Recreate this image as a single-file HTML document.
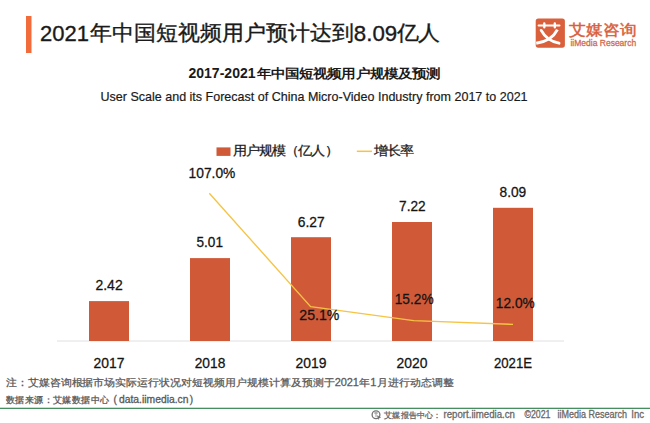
<!DOCTYPE html>
<html><head><meta charset="utf-8">
<style>
html,body{margin:0;padding:0;background:#fff;width:650px;height:423px;overflow:hidden}
svg{display:block;font-family:"Liberation Sans",sans-serif}
</style></head><body>
<svg width="650" height="423" viewBox="0 0 650 423">
<rect x="0" y="0" width="650" height="423" fill="#fff"/>
<!-- title -->
<rect x="26" y="16" width="5.5" height="37" fill="#f26b3a"/>
<g font-size="22" fill="#1a1a1a" stroke="#1a1a1a" stroke-width="0.35">
<text x="40" y="40.5">2021</text>
<text transform="translate(90.4 40.0) scale(1.045 1)" x="0.00 21.03 42.07 63.10 84.13 105.17 126.20 147.23 168.27 189.30 210.33 231.37" y="0" font-size="21" font-weight="500">年中国短视频用户预计达到</text>
<text x="353.8" y="40.5" textLength="43.4" lengthAdjust="spacingAndGlyphs">8.09</text>
<text transform="translate(397.2 40.0) scale(1.045 1)" x="0.00 20.38" y="0" font-size="21" font-weight="500">亿人</text>
</g>
<!-- logo -->
<rect x="535.7" y="18.4" width="29.2" height="29.3" rx="2.6" fill="#d9603b"/>
<g stroke="#fff" fill="none" stroke-linecap="round">
<path d="M538.6 25.5 H559.5" stroke-width="2"/>
<path d="M544.3 23.4 V27.2 M554.8 23.4 V27.2" stroke-width="2.4"/>
<path d="M541.2 30.4 C544.5 36.5 550 41.5 559 43.2" stroke-width="2.9"/>
<path d="M557.4 29.6 C554 36.5 546 41.8 536.2 43.3" stroke-width="2.9" stroke-linecap="butt"/>
</g>
<text transform="translate(569.4 34.8) scale(1.11 1)" x="0" y="0" font-size="15" font-weight="500" fill="#d9603b" stroke="#d9603b" stroke-width="0.45">艾媒咨询</text>
<text x="570.4" y="45.6" font-size="9.8" fill="#d0694a" stroke="#d0694a" stroke-width="0.3" textLength="65.8" lengthAdjust="spacingAndGlyphs">iiMedia Research</text>
<!-- subtitles -->
<g font-size="14" font-weight="bold" fill="#1a1a1a"><text x="188.4" y="78.2" textLength="67.2" lengthAdjust="spacing">2017-2021</text><text transform="translate(257.2 77.5) scale(1.12 1)" x="0.00 12.54 25.09 37.63 50.18 62.72 75.27 87.81 100.36 112.90 125.45 137.99 150.54" y="0" font-size="12.5">年中国短视频用户规模及预测</text></g>
<text x="100.5" y="100.8" font-size="12.9" fill="#1a1a1a" stroke="#1a1a1a" stroke-width="0.2" textLength="427.1" lengthAdjust="spacingAndGlyphs">User Scale and its Forecast of China Micro-Video Industry from 2017 to 2021</text>
<!-- legend -->
<rect x="216.5" y="147.4" width="14" height="8.5" fill="#d05a38"/>
<text transform="translate(233 154.8) scale(1.083 1)" x="0" y="0" font-size="12.6" letter-spacing="-0.4" font-weight="500" fill="#1a1a1a" stroke="#1a1a1a" stroke-width="0.25">用户规模（亿人）</text>
<line x1="356.8" y1="151.3" x2="372" y2="151.3" stroke="#f6c444" stroke-width="1.5"/>
<text transform="translate(374 154.8) scale(1.083 1)" x="0" y="0" font-size="12.6" letter-spacing="-0.4" font-weight="500" fill="#1a1a1a" stroke="#1a1a1a" stroke-width="0.25">增长率</text>
<!-- axis -->
<line x1="57" y1="341" x2="564" y2="341" stroke="#e0e0e0" stroke-width="1"/>
<!-- bars -->
<g fill="#d05a38">
<rect x="89" y="301.1" width="40" height="39.9"/>
<rect x="190" y="258.1" width="40" height="82.9"/>
<rect x="291" y="237.2" width="40" height="103.8"/>
<rect x="392" y="222" width="40" height="119"/>
<rect x="493" y="207.8" width="40" height="133.2"/>
</g>
<!-- line -->
<polyline points="209.3,193.2 310.6,306.6 413.7,320.6 513,324.4" fill="none" stroke="#f6c444" stroke-width="1.4" stroke-linejoin="round"/>
<!-- LABELS -->
<g font-size="14.5" fill="#141414" stroke="#141414" stroke-width="0.28">
<text x="95.45" y="289.8" textLength="27.26" lengthAdjust="spacingAndGlyphs">2.42</text>
<text x="196.56" y="247.2" textLength="26.41" lengthAdjust="spacingAndGlyphs">5.01</text>
<text x="297.80" y="226.8" textLength="26.90" lengthAdjust="spacingAndGlyphs">6.27</text>
<text x="399.10" y="211.1" textLength="26.59" lengthAdjust="spacingAndGlyphs">7.22</text>
<text x="499.50" y="196.8" textLength="26.75" lengthAdjust="spacingAndGlyphs">8.09</text>
</g>
<g font-size="14.5" fill="#141414" stroke="#141414" stroke-width="0.28">
<text x="188.60" y="178.0" textLength="46.79" lengthAdjust="spacingAndGlyphs">107.0%</text>
<text x="299.29" y="320.0" textLength="40.01" lengthAdjust="spacingAndGlyphs">25.1%</text>
<text x="394.76" y="303.8" textLength="38.83" lengthAdjust="spacingAndGlyphs">15.2%</text>
<text x="495.86" y="308.4" textLength="38.83" lengthAdjust="spacingAndGlyphs">12.0%</text>
</g>
<g font-size="14.5" fill="#141414" stroke="#141414" stroke-width="0.28">
<text x="93.60" y="367.6" textLength="30.90" lengthAdjust="spacingAndGlyphs">2017</text>
<text x="194.71" y="367.6" textLength="30.59" lengthAdjust="spacingAndGlyphs">2018</text>
<text x="295.60" y="367.6" textLength="30.96" lengthAdjust="spacingAndGlyphs">2019</text>
<text x="396.60" y="367.8" textLength="30.84" lengthAdjust="spacingAndGlyphs">2020</text>
<text x="493.94" y="367.8" textLength="38.13" lengthAdjust="spacingAndGlyphs">2021E</text>
</g>
<!-- /LABELS -->
<!-- notes -->
<text transform="translate(5.7 385.7) scale(1.09 1)" x="0.00 10.06 20.13 30.19 40.26 50.32 60.39 70.45 80.51 90.58 100.64 110.71 120.77 130.83 140.90 150.96 161.03 171.09 181.16 191.22 201.28 211.35 221.41 231.48 241.54 251.61 261.67 271.73 281.80 291.86 301.93 307.39 312.84 318.30 324.36 334.42 340.48 350.54 360.61 370.67 380.73 390.80 400.86" y="0" font-size="10.1" font-weight="500" fill="#595959" stroke="#595959" stroke-width="0.25">注：艾媒咨询根据市场实际运行状况对短视频用户规模计算及预测于2021年1月进行动态调整</text>
<g fill="#595959" stroke="#595959" stroke-width="0.3">
<text x="6" y="402.6" font-size="9.4" letter-spacing="0.4" font-weight="500">数据来源：艾媒数据中心</text>
<text x="113.6" y="402.6" font-size="10">(</text>
<text x="119" y="402.6" font-size="10.2" textLength="69.5" lengthAdjust="spacingAndGlyphs">data.iimedia.cn</text>
<text x="189.8" y="402.6" font-size="10">)</text>
</g>
<rect x="0" y="407.7" width="650" height="1.3" fill="#468e60"/>
<!-- footer -->
<g fill="#696969" stroke="#696969" stroke-width="0.3">
<circle cx="376" cy="414.8" r="3.9" fill="none" stroke="#737373" stroke-width="1.3"/>
<path d="M374 413 H378 M376 412 V417" stroke="#737373" stroke-width="0.7"/>
<path d="M377.2 415.6 L380.8 417.4 L379 418 L378.6 419.6 Z" fill="#737373"/>
<text x="384.3" y="418.2" font-size="8.2" letter-spacing="0.2" font-weight="500">艾媒报告中心：</text>
<text x="443.5" y="417.7" font-size="10" textLength="71.5" lengthAdjust="spacingAndGlyphs">report.iimedia.cn</text>
<text x="524.5" y="417.7" font-size="10" textLength="26" lengthAdjust="spacingAndGlyphs">©2021</text>
<text x="557.5" y="417.7" font-size="10" textLength="69.5" lengthAdjust="spacingAndGlyphs">iiMedia Research</text>
<text x="631.3" y="417.7" font-size="10" textLength="12.8" lengthAdjust="spacingAndGlyphs">Inc</text>
</g>
</svg>
</body></html>
